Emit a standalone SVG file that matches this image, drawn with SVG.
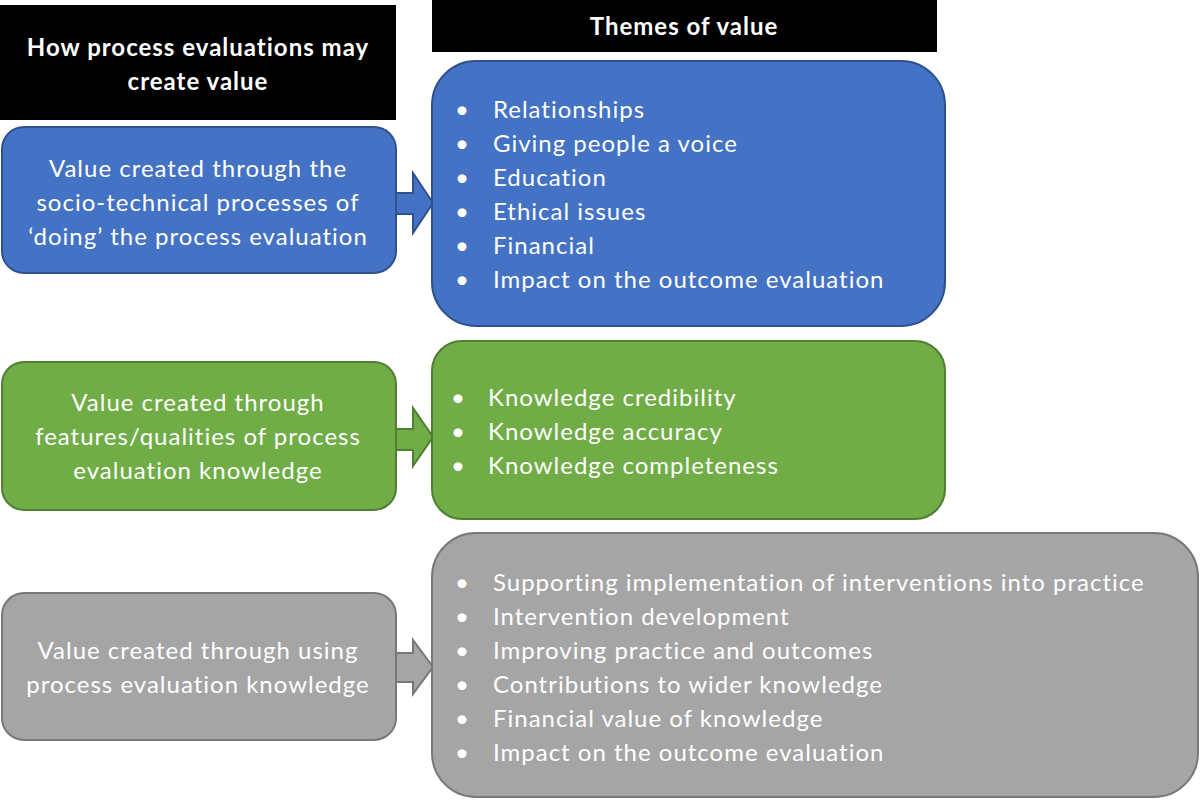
<svg xmlns="http://www.w3.org/2000/svg" width="1200" height="800" viewBox="0 0 1200 800">
<style>
.hdr{fill:#000}
.ht{font-family:Lato,"Open Sans","Liberation Sans",sans-serif;font-weight:bold;font-size:24px;letter-spacing:1px;fill:#fff;text-anchor:middle}
.t{font-family:Lato,"Open Sans","Liberation Sans",sans-serif;font-size:24px;letter-spacing:1px;fill:#fff}
.c{text-anchor:middle}
.blue{fill:#4472C4;stroke:#2F528F;stroke-width:2}
.green{fill:#70AD47;stroke:#507E32;stroke-width:2}
.gray{fill:#A5A5A5;stroke:#787878;stroke-width:2}
</style>
<rect width="1200" height="800" fill="#fff"/>
<g id="header-left">
<rect class="hdr" x="0" y="5" width="396" height="115"/>
<text class="ht" x="198" y="56">How process evaluations may</text>
<text class="ht" x="198" y="90">create value</text>
</g>
<g id="header-right">
<rect class="hdr" x="432" y="0" width="505" height="52"/>
<text class="ht" x="684" y="35">Themes of value</text>
</g>
<g id="connectors">
<path class="blue" d="M395,193 H413 V173 L433,203 L413,233 V214 H395 Z"/>
<path class="green" d="M395,429 H413 V408 L433,437 L413,466 V450 H395 Z"/>
<path class="gray" d="M395,653 H413 V640 L433,667 L413,694 V682 H395 Z"/>
</g>
<g id="node-doing">
<rect class="blue" x="2" y="127" width="394" height="146" rx="22"/>
<text class="t c" x="198" y="177">Value created through the</text>
<text class="t c" x="198" y="211">socio-technical processes of</text>
<text class="t c" x="198" y="245">‘doing’ the process evaluation</text>
</g>
<g id="node-features">
<rect class="green" x="2" y="362" width="394" height="148" rx="22"/>
<text class="t c" x="198" y="411">Value created through</text>
<text class="t c" x="198" y="445">features/qualities of process</text>
<text class="t c" x="198" y="479">evaluation knowledge</text>
</g>
<g id="node-using">
<rect class="gray" x="2" y="593" width="394" height="147" rx="22"/>
<text class="t c" x="198" y="659">Value created through using</text>
<text class="t c" x="198" y="693">process evaluation knowledge</text>
</g>
<g id="themes-doing">
<rect class="blue" x="432" y="61" width="513" height="265" rx="44"/>
<g class="t">
<text x="455" y="118">•</text><text x="493" y="118">Relationships</text>
<text x="455" y="152">•</text><text x="493" y="152">Giving people a voice</text>
<text x="455" y="186">•</text><text x="493" y="186">Education</text>
<text x="455" y="220">•</text><text x="493" y="220">Ethical issues</text>
<text x="455" y="254">•</text><text x="493" y="254">Financial</text>
<text x="455" y="288">•</text><text x="493" y="288">Impact on the outcome evaluation</text>
</g>
</g>
<g id="themes-features">
<rect class="green" x="432" y="341" width="513" height="178" rx="30"/>
<g class="t">
<text x="451" y="406">•</text><text x="488" y="406">Knowledge credibility</text>
<text x="451" y="440">•</text><text x="488" y="440">Knowledge accuracy</text>
<text x="451" y="474">•</text><text x="488" y="474">Knowledge completeness</text>
</g>
</g>
<g id="themes-using">
<rect class="gray" x="432" y="533" width="766" height="264" rx="44"/>
<g class="t">
<text x="455" y="591">•</text><text x="493" y="591">Supporting implementation of interventions into practice</text>
<text x="455" y="625">•</text><text x="493" y="625">Intervention development</text>
<text x="455" y="659">•</text><text x="493" y="659">Improving practice and outcomes</text>
<text x="455" y="693">•</text><text x="493" y="693">Contributions to wider knowledge</text>
<text x="455" y="727">•</text><text x="493" y="727">Financial value of knowledge</text>
<text x="455" y="761">•</text><text x="493" y="761">Impact on the outcome evaluation</text>
</g>
</g>
</svg>
